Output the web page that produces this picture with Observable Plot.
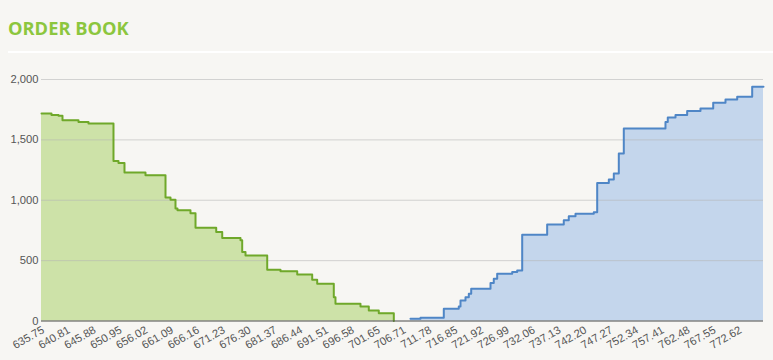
<!DOCTYPE html>
<html>
<head>
<meta charset="utf-8">
<script src="https://cdn.jsdelivr.net/npm/d3@7"></script>
<script src="https://cdn.jsdelivr.net/npm/@observablehq/plot@0.6"></script>
<style>
  html, body { margin: 0; padding: 0; background: #f7f6f3; }
  #head { position: relative; width: 773px; height: 54px; }
  #title { position: absolute; left: 8px; top: 19px; font: bold 18.3px/1 "Open Sans", sans-serif; color: #8cc63e; letter-spacing: 0; }
  #rule { position: absolute; left: 8px; right: 0; top: 51px; height: 2px; background: #ffffff; }
</style>
</head>
<body>
<div id="head"><div id="title">ORDER BOOK</div><div id="rule"></div></div>
<div id="chart"></div>
<script>
// Bids (cumulative, green)
const bidPrice = [635.40, 637.36, 638.74, 639.52, 642.66, 644.62, 649.53, 650.51, 651.69, 655.81,
  659.74, 660.72, 661.70, 662.09, 664.64, 665.63, 669.69, 670.87, 674.46, 674.79,
  675.44, 679.70, 682.31, 685.59, 688.53, 689.51, 692.77, 693.10, 698.01, 699.64,
  701.60, 704.55];
const bidVolume = [1719, 1707, 1699, 1663, 1649, 1636, 1326, 1309, 1229, 1207,
  1022, 1005, 931, 917, 892, 773, 737, 687, 668, 571,
  543, 425, 413, 386, 342, 309, 197, 143, 120, 87,
  65, 0];
// Asks (cumulative, blue)
const askPrice = [707.82, 709.79, 714.36, 717.30, 717.64, 718.62, 719.27, 719.74, 723.53, 724.17,
  724.84, 727.79, 728.77, 729.75, 734.65, 737.91, 738.89, 740.21, 743.80, 744.47,
  746.75, 747.73, 748.71, 749.69, 757.87, 758.32, 759.84, 762.13, 764.74, 767.24,
  769.65, 771.95, 774.89, 777.11];
const askVolume = [18, 27, 101, 120, 170, 197, 226, 267, 314, 350,
  392, 405, 419, 715, 800, 834, 867, 889, 900, 1143,
  1171, 1221, 1387, 1594, 1649, 1686, 1705, 1740, 1760, 1807,
  1835, 1857, 1939, 1939];
const xTickLabels = ["635.75","640.81","645.88","650.95","656.02","661.09","666.16","671.23","676.30","681.37",
  "686.44","691.51","696.58","701.65","706.71","711.78","716.85","721.92","726.99","732.06",
  "737.13","742.20","747.27","752.34","757.41","762.48","767.55","772.62"];
const yTicks = [0, 500, 1000, 1500, 2000];

const bids = bidPrice.map((p, i) => ({p, v: bidVolume[i]}));
const asks = askPrice.map((p, i) => ({p, v: askVolume[i]}));
const xTicks = xTickLabels.map(Number);
const labelOf = new Map(xTickLabels.map(s => [Number(s).toFixed(2), s]));

const chart = Plot.plot({
  width: 773,
  height: 308,
  marginLeft: 41,
  marginRight: 10,
  marginTop: 25,
  marginBottom: 41.5,
  style: {background: "transparent", fontFamily: "'Liberation Sans', Arial, sans-serif", fontSize: "11.2px", color: "#555"},
  x: {domain: [635.40, 777.11], ticks: xTicks, tickFormat: d => labelOf.get(d.toFixed(2)), tickRotate: -30, tickSize: 0, tickPadding: 8, label: null},
  y: {domain: [0, 2000], ticks: yTicks, tickFormat: d3.format(","), tickSize: 0, tickPadding: 3, label: null},
  marks: [
    Plot.areaY(bids, {x: "p", y: "v", curve: "step-after", fill: "#cde2a8"}),
    Plot.areaY(asks, {x: "p", y: "v", curve: "step-after", fill: "#c4d6ec"}),
    Plot.ruleY(yTicks.filter(d => d > 0), {stroke: "#b5b5b5", strokeOpacity: 0.55}),
    Plot.lineY(bids, {x: "p", y: "v", curve: "step-after", stroke: "#6fa82a", strokeWidth: 2}),
    Plot.lineY(asks, {x: "p", y: "v", curve: "step-after", stroke: "#4f86c6", strokeWidth: 2}),
    Plot.ruleY([0], {stroke: "#4a4a4a", strokeWidth: 1.2})
  ]
});
document.getElementById("chart").appendChild(chart);
</script>
</body>
</html>
